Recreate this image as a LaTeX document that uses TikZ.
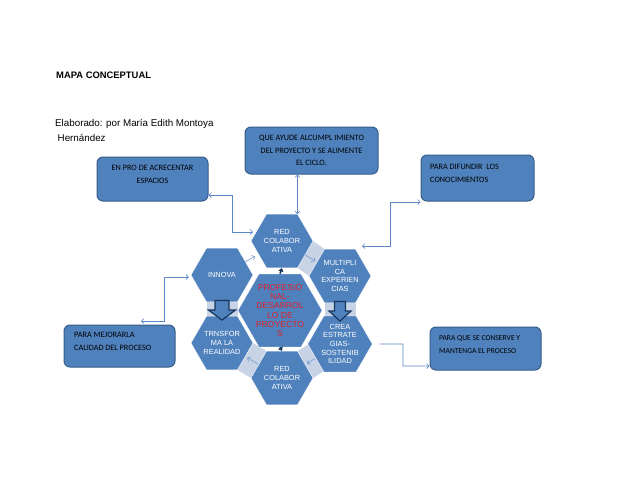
\documentclass[tikz,border=0pt]{standalone}
\usepackage{fontspec}
\setmainfont{Liberation Sans}
\newfontfamily\calib{Carlito}
\usetikzlibrary{shapes.geometric,arrows.meta,calc}
\definecolor{hexblue}{HTML}{4F81BD}
\definecolor{hexedge}{HTML}{385D8A}
\definecolor{connc}{HTML}{5B87C7}
\definecolor{wedgec}{HTML}{C9D3E6}
\definecolor{navyc}{HTML}{17375E}
\definecolor{profred}{HTML}{E0202A}
\begin{document}
\begin{tikzpicture}[x=1pt,y=-1pt,
  hexa/.style={regular polygon,regular polygon sides=6,minimum size=62pt,inner sep=0pt,
    fill=hexblue,draw=white,line width=0.4pt,text=white,align=center,
    font=\fontsize{7.4}{8.6}\selectfont},
  cbox/.style={rectangle,rounded corners=6pt,fill=hexblue,draw=hexedge,line width=1pt,inner sep=0pt},
  btext/.style={font=\calib\fontsize{8.2}{12.5}\selectfont,inner sep=0pt,text=black},
  conn/.style={draw=connc,line width=0.6pt,{Straight Barb[length=2.5pt,width=5pt]}-{Straight Barb[length=2.5pt,width=5pt]}},
  conne/.style={draw=connc,line width=0.6pt,-{Straight Barb[length=2.5pt,width=5pt]}},
  smallarr/.style={draw=connc!85,line width=0.6pt,-{Straight Barb[length=2.5pt,width=5pt]}},
  wedge/.style={fill=wedgec,draw=none},
  blockarr/.style={fill=hexblue,draw=navyc,line width=1.2pt,line join=miter},
  darkarr/.style={draw=navyc,line width=1.6pt,-{Triangle[length=3.5pt,width=5pt]}}
]
\useasboundingbox[fill=white] (0,0) rectangle (638,493);

% header texts
\node[anchor=base west,inner sep=0pt,font=\bfseries\fontsize{9.4}{11}\selectfont] (title) at (56,78.5) {MAPA CONCEPTUAL};
\node[anchor=base west,inner sep=0pt,font=\fontsize{9.8}{12}\selectfont] (elab) at (55,126.5) {Elaborado: por María Edith Montoya};
\node[anchor=base west,inner sep=0pt,font=\fontsize{9.8}{12}\selectfont] (hern) at (57.5,141) {Hernández};

% light gaps between hexagons (drawn first, behind)
\fill[wedge] (297.5,267.9) -- (313,241) -- (324.5,249.1) -- (309,276) -- cycle;
\fill[wedge] (324.5,302.9) -- (355.5,302.9) -- (355.5,317.1) -- (324.5,317.1) -- cycle;
\fill[wedge] (309,344) -- (324.5,370.9) -- (313,378) -- (297.5,351.1) -- cycle;
\fill[wedge] (266.5,351.1) -- (251,378) -- (237.5,369.9) -- (253,343) -- cycle;
\fill[wedge] (206.5,301.9) -- (237.5,301.9) -- (237.5,316.1) -- (206.5,316.1) -- cycle;

% hexagons
\node[hexa] (topred) at (282,241) {RED\\COLABOR\\ATIVA};
\node[hexa] (innova) at (222,275) {INNOVA};
\node[hexa] (multi) at (340,276) {MULTIPLI\\CA\\EXPERIEN\\CIAS};
\node[hexa,minimum size=74pt,text=profred,font=\fontsize{8.6}{9.1}\selectfont] (prof) at (280,310.5) {PROFESIO\\NAL-\\DESARROL\\LO DE\\PROYECTO\\S};
\node[hexa] (trans) at (222,343) {TRNSFOR\\MA LA\\REALIDAD};
\node[hexa] (crea) at (340,344) {CREA\\ESTRATE\\GIAS-\\SOSTENIB\\ILIDAD};
\node[hexa] (botred) at (282,378) {RED\\COLABOR\\ATIVA};

% small arrows between hexagons
\draw[smallarr] ($(innova)!0.38!(topred)$) -- ($(innova)!0.55!(topred)$);
\draw[smallarr] ($(topred)!0.40!(multi)$) -- ($(topred)!0.57!(multi)$);
\draw[smallarr] ($(crea)!0.43!(botred)$) -- ($(crea)!0.57!(botred)$);
\draw[smallarr] ($(botred)!0.40!(trans)$) -- ($(botred)!0.58!(trans)$);

% block arrows
\path[blockarr] ($(innova.south)+(-7,-1.5)$) -- ++(14,0) -- ++(0,9.5) -- ++(6.5,0) -- ++(-13.5,10) -- ++(-13.5,-10) -- ++(6.5,0) -- cycle;
\path[blockarr] ($(multi.south)+(-5.5,-1.5)$) -- ++(11,0) -- ++(0,9.5) -- ++(5.5,0) -- ++(-11,10) -- ++(-11,-10) -- ++(5.5,0) -- cycle;

% dark arrows from centre
\draw[darkarr] (prof.north) -- (topred.south);
\draw[darkarr] (prof.south) -- (botred.north);

% boxes
\node[cbox,minimum width=133pt,minimum height=47pt] (qa) at (311.5,150.5) {};
\node[btext,align=center,font=\calib\fontsize{8.2}{12.3}\selectfont] (qat) at (311.5,150.5) {QUE AYUDE ALCUMPL IMIENTO\\DEL PROYECTO Y SE ALIMENTE\\EL CICLO.};
\node[cbox,minimum width=111pt,minimum height=44pt] (ep) at (152.5,179) {};
\node[btext,align=center] (ept) at (152.5,174.5) {EN PRO DE ACRECENTAR\\ESPACIOS};
\node[cbox,minimum width=113pt,minimum height=46pt] (pd) at (477.5,178) {};
\node[btext,align=left,anchor=west] (pdt) at (430,173.5) {PARA DIFUNDIR\ \ LOS\\CONOCIMIENTOS};
\node[cbox,minimum width=111pt,minimum height=42pt] (pm) at (119.5,346) {};
\node[btext,align=left,anchor=west] (pmt) at (74,341.5) {PARA MEJORARLA\\CALIDAD DEL PROCESO};
\node[cbox,minimum width=111pt,minimum height=43pt] (pc) at (485.5,348.5) {};
\node[btext,align=left,anchor=west,font=\calib\fontsize{7.6}{12.5}\selectfont] (pct) at (439,344.5) {PARA QUE SE CONSERVE Y\\MANTENGA EL PROCESO};

% connectors
\coordinate (qaB) at (297.5,214);
\draw[conn] (qa.south -| qaB) -- (qaB);
\coordinate (epA) at (232,195);
\coordinate (epB) at (253,232);
\draw[conn] (ep.east |- epA) -- (epA) |- (epB);
\coordinate (pdA) at (390,202);
\coordinate (pdB) at (362,246);
\draw[conn] (pd.west |- pdA) -- (pdA) |- (pdB);
\coordinate (pmL) at (141,321);
\coordinate (pmA) at (164,321);
\draw[conn] (pmL) -- (pmA) |- ($(innova.west)+(-2,2)$);
\coordinate (pcA) at (403,344);
\draw[conne] ($(crea.east)+(7,0)$) -- (pcA) |- (pc.west |- 0,366);
\end{tikzpicture}
\end{document}
